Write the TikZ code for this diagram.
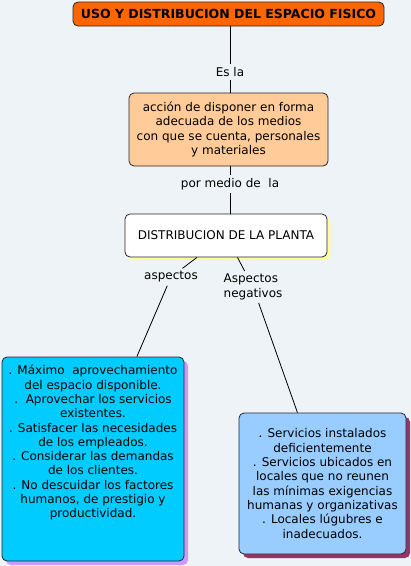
\documentclass[tikz,border=0pt]{standalone}
\usepackage{fontspec}
\setmainfont{DejaVu Sans}
\usetikzlibrary{shadows}
\definecolor{bg}{RGB}{237,243,246}
\definecolor{torange}{RGB}{255,102,0}
\definecolor{peach}{RGB}{255,204,153}
\definecolor{cyanbox}{RGB}{0,204,255}
\definecolor{lightblue}{RGB}{153,204,255}
\definecolor{shpurple}{RGB}{204,153,255}
\definecolor{shmaroon}{RGB}{153,51,102}
\definecolor{shyellow}{RGB}{255,255,153}
\begin{document}
\begin{tikzpicture}[x=1pt,y=-1pt,
  every node/.style={font=\fontsize{12}{14.3}\selectfont, text=black},
  concept/.style={draw=black!85, line width=0.8pt, rounded corners=5pt, align=center, inner sep=2pt},
  lbl/.style={fill=bg, inner sep=3pt, align=center},
  conn/.style={draw=black, line width=0.8pt}]
\fill[bg] (0,0) rectangle (411,566);
\useasboundingbox (0,0) rectangle (411,566);

\node[concept, fill=torange, minimum width=311pt, minimum height=24pt, font=\fontsize{12.5}{14}\selectfont\bfseries] (t) at (228.5,14) {USO Y DISTRIBUCION DEL ESPACIO FISICO};

\node[concept, fill=peach, minimum width=199pt, minimum height=73pt] (b2) at (228.5,129.5)
  {acción de disponer en forma\\adecuada de los medios\\con que se cuenta, personales\\y materiales};

\node[concept, fill=white, minimum width=202pt, minimum height=43pt,
  drop shadow={fill=shyellow, shadow xshift=3pt, shadow yshift=-3pt, opacity=1}] (b3) at (226,235.5)
  {DISTRIBUCION DE LA PLANTA};

\node[concept, fill=cyanbox, minimum width=182pt, minimum height=204pt,
  drop shadow={fill=shpurple, shadow xshift=4pt, shadow yshift=-4pt, opacity=1}] (b4) at (93,459) {};
\node[align=center, anchor=north, inner sep=0pt] (b4t) at (93,365)
  {. Máximo\ \ aprovechamiento\\del espacio disponible.\\.\ \ Aprovechar los servicios\\existentes.\\. Satisfacer las necesidades\\de los empleados.\\. Considerar las demandas\\de los clientes.\\. No descuidar los factores\\humanos, de prestigio y\\productividad.};

\node[concept, fill=lightblue, minimum width=167pt, minimum height=141pt,
  drop shadow={fill=shmaroon, shadow xshift=4pt, shadow yshift=-4pt, opacity=1}] (b5) at (322.5,483.5)
  {. Servicios instalados\\deficientemente\\. Servicios ubicados en\\locales que no reunen\\las mínimas exigencias\\humanas y organizativas\\. Locales lúgubres e\\inadecuados.};

\node[lbl] (l1) at (230,72) {Es la};
\node[lbl] (l2) at (230,184) {por medio de\ \ la};
\node[lbl] (l3) at (171,277) {aspectos};
\node[lbl, align=left] (l4) at (253,287) {Aspectos\\negativos};

\draw[conn] (t.south -| l1) -- (l1);
\draw[conn] (l1) -- (l1 |- b2.north);
\draw[conn] (b2.south -| l2) -- (l2);
\draw[conn] (l2) -- (l2 |- b3.north);
\draw[conn] (b3) -- (l3);
\draw[conn] (l3) -- (b4);
\draw[conn] (b3) -- (l4);
\draw[conn] (l4) -- (b5);
\end{tikzpicture}
\end{document}
